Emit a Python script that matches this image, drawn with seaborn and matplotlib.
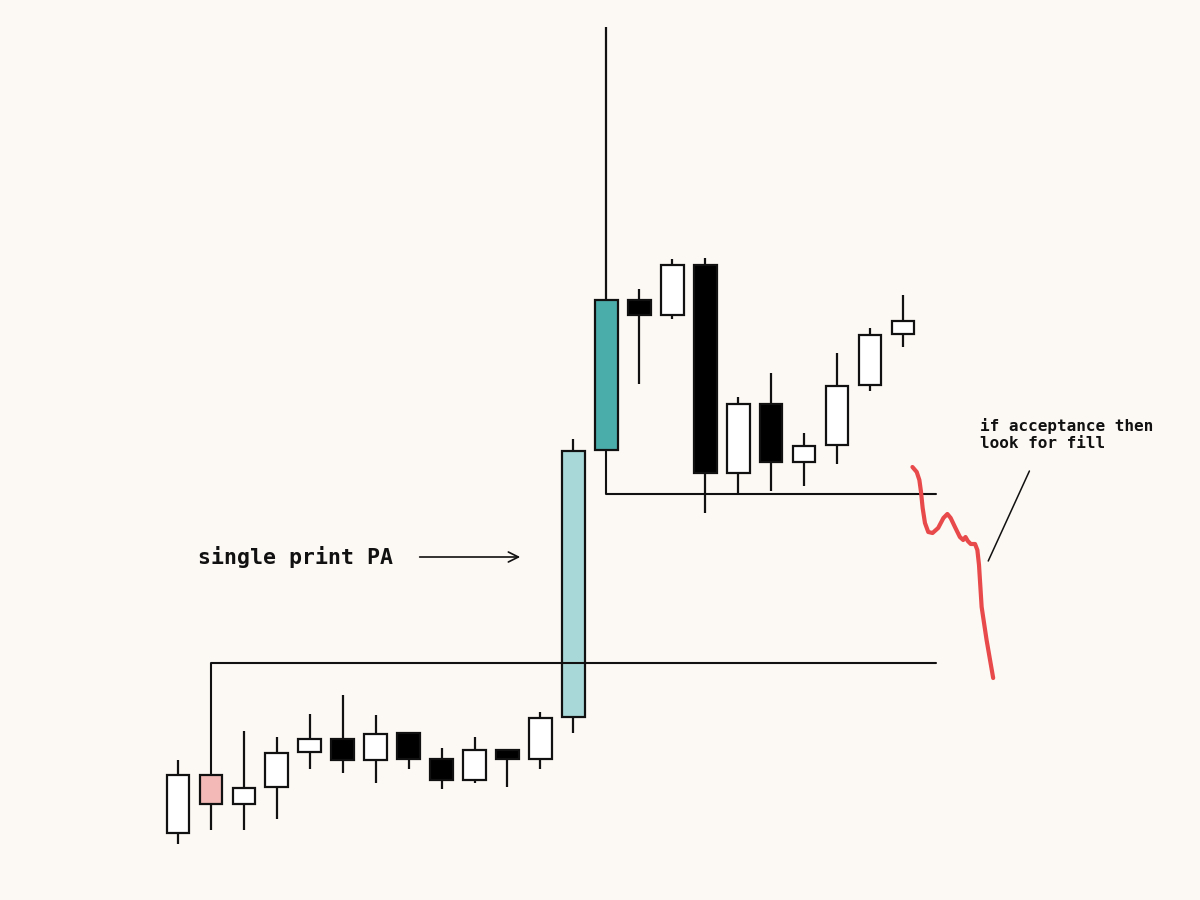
import numpy as np
import pandas as pd
import matplotlib.pyplot as plt
import seaborn as sns

# candle data (price units)
opens  = [67, 96, 96, 113, 148, 161, 140, 167, 141, 120, 150, 141, 183, 450, 600, 585, 635, 427, 496, 438, 455, 515, 566]
closes = [125, 125, 112, 147, 161, 140, 166, 141, 120, 150, 141, 182, 449, 600, 585, 635, 427, 496, 438, 454, 514, 565, 579]
highs  = [140, 125, 169, 163, 186, 205, 185, 167, 152, 163, 150, 188, 461, 873, 611, 641, 642, 503, 527, 467, 547, 572, 605]
lows   = [56, 70, 70, 81, 131, 127, 117, 131, 111, 117, 113, 131, 167, 450, 516, 581, 387, 405, 409, 414, 436, 509, 553]

# special colours for a few candles
special = {1: '#f3b9b6', 12: '#a8d9d8', 13: '#4badaa'}

# levels: (anchor candle, anchor price, level price, end)
level_low = (1, 125, 237, 23.0)
level_high = (13, 450, 406.5, 23.0)

# hand drawn red path
path_x = [22.29, 22.42, 22.50, 22.55, 22.60, 22.67, 22.77, 22.90, 23.07, 23.23, 23.35, 23.45,
          23.58, 23.73, 23.83, 23.90, 23.97, 24.06, 24.19, 24.26, 24.31, 24.39, 24.54, 24.74]
path_y = [433, 428, 420, 408, 392, 377, 368, 367, 372, 382, 386, 382,
          373, 363, 360, 363, 359, 356, 356, 350, 335, 293, 260, 222]

# pointer line for the note
pointer_x = [25.84, 24.59]
pointer_y = [429, 339]

df = pd.DataFrame({'open': opens, 'close': closes, 'high': highs, 'low': lows})
df['idx'] = np.arange(len(df))
df['top'] = df[['open', 'close']].max(axis=1)
df['bottom'] = df[['open', 'close']].min(axis=1)

def body_color(i, r):
    if i in special:
        return special[i]
    return 'white' if r['close'] >= r['open'] else 'black'

df['color'] = [body_color(i, r) for i, r in df.iterrows()]

bg = '#fcf8f3'
sns.set_theme(style='white')
plt.rcParams['font.family'] = ['DejaVu Sans Mono', 'DejaVu Sans']

fig = plt.figure(figsize=(12, 9), dpi=100, facecolor=bg)
ax = fig.add_axes([0, 0, 1, 1])
ax.set_facecolor(bg)

# wicks
ax.vlines(df['idx'], df['low'], df['high'], color='#111111', lw=1.6, zorder=1)
# bodies
ax.bar(df['idx'], df['top'] - df['bottom'], bottom=df['bottom'], width=0.69,
       color=df['color'], edgecolor='#111111', linewidth=1.6, zorder=2)

# level lines
for anchor, p0, lvl, end in [level_low, level_high]:
    ax.plot([anchor, anchor, end], [p0, lvl, lvl], color='#111111', lw=1.5, zorder=3)

# red path
sns.lineplot(x=path_x, y=path_y, sort=False, color='#e8494a', lw=3, ax=ax, zorder=4,
             solid_joinstyle='round', solid_capstyle='round')

ax.plot(pointer_x, pointer_y, color='#111111', lw=1.1)
ax.text(24.34, 482, 'if acceptance then\nlook for fill', fontsize=11.5, fontweight='bold',
        va='top', ha='left', linespacing=1.2, color='#111111')

ax.text(0.61, 343, 'single print PA', fontsize=15.5, fontweight='bold',
        va='center', ha='left', color='#111111')
ax.annotate('', xy=(10.47, 343), xytext=(7.25, 343),
            arrowprops=dict(arrowstyle='->', color='#111111', lw=1.2, mutation_scale=18))

ax.set_xlim(-5.402, 31.017)
ax.set_ylim(0, 900)
ax.axis('off')

fig.savefig('out.png', dpi=100, facecolor=bg)
